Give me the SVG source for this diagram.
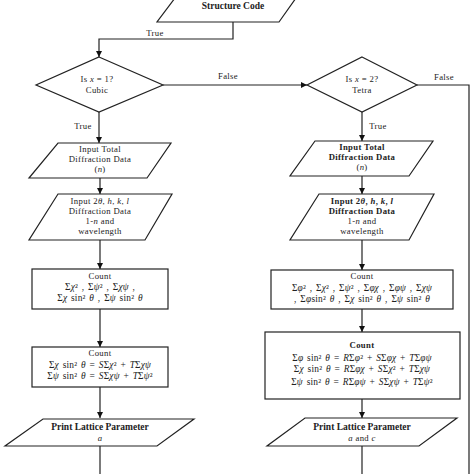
<svg xmlns="http://www.w3.org/2000/svg" width="474" height="474" viewBox="0 0 474 474">
<defs>
<marker id="arr" viewBox="0 0 8 8" refX="8" refY="4" markerWidth="6" markerHeight="6" markerUnits="userSpaceOnUse" orient="auto">
<path d="M0,0 L8,4 L0,8 z" fill="#111"/>
</marker>
<style>
.s{fill:#fff;stroke:#222;stroke-width:1.2}
.c{fill:none;stroke:#222;stroke-width:1.2}
text{font-family:"Liberation Serif","Times New Roman",serif;font-size:8.7px;letter-spacing:0.35px;fill:#222;text-anchor:middle}
.b{font-weight:bold}
.t{font-size:9.5px;letter-spacing:0}
.m{font-size:9.4px;letter-spacing:0.2px;word-spacing:1.2px}
.i{font-style:italic}
</style>
</defs>
<rect width="474" height="474" fill="#fff"/>
<g id="connectors">
<polyline class="c" points="233,22 233,39 99,39 99,57" marker-end="url(#arr)"/>
<line class="c" x1="163" y1="85" x2="307" y2="85" marker-end="url(#arr)"/>
<polyline class="c" points="417,85 469,85 469,474"/>
<line class="c" x1="99" y1="112" x2="99" y2="143" marker-end="url(#arr)"/>
<line class="c" x1="100" y1="178" x2="100" y2="194" marker-end="url(#arr)"/>
<line class="c" x1="100" y1="240" x2="100" y2="269" marker-end="url(#arr)"/>
<line class="c" x1="100" y1="309" x2="100" y2="347" marker-end="url(#arr)"/>
<line class="c" x1="100" y1="387" x2="100" y2="418" marker-end="url(#arr)"/>
<line class="c" x1="100" y1="446" x2="100" y2="474"/>
<line class="c" x1="362" y1="112" x2="362" y2="141" marker-end="url(#arr)"/>
<line class="c" x1="362" y1="176" x2="362" y2="194" marker-end="url(#arr)"/>
<line class="c" x1="362" y1="240" x2="362" y2="270" marker-end="url(#arr)"/>
<line class="c" x1="362" y1="309" x2="362" y2="332" marker-end="url(#arr)"/>
<line class="c" x1="362" y1="399" x2="362" y2="418" marker-end="url(#arr)"/>
<line class="c" x1="362" y1="446" x2="362" y2="474"/>
<text x="155" y="36">True</text>
<text x="228" y="79">False</text>
<text x="444" y="80">False</text>
<text x="83" y="129">True</text>
<text x="378" y="129">True</text>
</g>
<g id="structure-code">
<polygon class="s" points="175,-2 296,-2 279,22 157,22"/>
<text class="b t" x="233" y="9">Structure Code</text>
</g>
<g id="is-cubic">
<polygon class="s" points="99,57 163,85 99,112 36,85"/>
<text x="97" y="82">Is <tspan class="i">x</tspan> = 1?</text>
<text x="97" y="93">Cubic</text>
</g>
<g id="is-tetra">
<polygon class="s" points="362,57 417,85 362,112 307,85"/>
<text x="362" y="82">Is <tspan class="i">x</tspan> = 2?</text>
<text x="362" y="93">Tetra</text>
</g>
<g id="input-total-left">
<polygon class="s" points="58,143 171,143 147,178 29,178"/>
<text x="100" y="152">Input Total</text>
<text x="100" y="162">Diffraction Data</text>
<text x="100" y="172">(<tspan class="i">n</tspan>)</text>
</g>
<g id="input-data-left">
<polygon class="s" points="58,194 172,194 145,240 29,240"/>
<text x="100" y="204">Input 2<tspan class="i">θ</tspan>, <tspan class="i">h</tspan>, <tspan class="i">k</tspan>, <tspan class="i">l</tspan></text>
<text x="100" y="214">Diffraction Data</text>
<text x="100" y="224">1-<tspan class="i">n</tspan> and</text>
<text x="100" y="234">wavelength</text>
</g>
<g id="count1-left">
<rect class="s" x="32" y="269" width="136" height="40"/>
<text x="100" y="279">Count</text>
<text class="m" x="100" y="290">Σ<tspan class="i">χ</tspan>² , Σ<tspan class="i">ψ</tspan>² , Σ<tspan class="i">χψ</tspan> ,</text>
<text class="m" x="100" y="301">Σ<tspan class="i">χ</tspan> sin² <tspan class="i">θ</tspan> , Σ<tspan class="i">ψ</tspan> sin² <tspan class="i">θ</tspan></text>
</g>
<g id="count2-left">
<rect class="s" x="32" y="347" width="136" height="40"/>
<text x="100" y="356">Count</text>
<text class="m" x="100" y="368">Σ<tspan class="i">χ</tspan> sin² <tspan class="i">θ</tspan> = <tspan class="i">S</tspan>Σ<tspan class="i">χ</tspan>² + <tspan class="i">T</tspan>Σ<tspan class="i">χψ</tspan></text>
<text class="m" x="100" y="379">Σ<tspan class="i">ψ</tspan> sin² <tspan class="i">θ</tspan> = <tspan class="i">S</tspan>Σ<tspan class="i">χψ</tspan> + <tspan class="i">T</tspan>Σ<tspan class="i">ψ</tspan>²</text>
</g>
<g id="print-left">
<polygon class="s" points="43,419 194,419 157,446 5,446"/>
<text class="b t" x="100" y="430">Print Lattice Parameter</text>
<text x="100" y="441"><tspan class="i">a</tspan></text>
</g>
<g id="input-total-right">
<polygon class="s" points="315,141 433,141 409,176 290,176"/>
<text class="b" x="362" y="150">Input Total</text>
<text class="b" x="362" y="160">Diffraction Data</text>
<text x="362" y="170">(<tspan class="i">n</tspan>)</text>
</g>
<g id="input-data-right">
<polygon class="s" points="319,194 434,194 409,240 290,240"/>
<text class="b" x="362" y="204">Input 2<tspan class="i">θ</tspan>, <tspan class="i">h</tspan>, <tspan class="i">k</tspan>, <tspan class="i">l</tspan></text>
<text class="b" x="362" y="214">Diffraction Data</text>
<text x="362" y="224">1-<tspan class="i">n</tspan> and</text>
<text x="362" y="234">wavelength</text>
</g>
<g id="count1-right">
<rect class="s" x="271" y="270" width="182" height="39"/>
<text x="362" y="279">Count</text>
<text class="m" x="362" y="291">Σ<tspan class="i">φ</tspan>² , Σ<tspan class="i">χ</tspan>² , Σ<tspan class="i">ψ</tspan>² , Σ<tspan class="i">φχ</tspan> , Σ<tspan class="i">φψ</tspan> , Σ<tspan class="i">χψ</tspan></text>
<text class="m" x="362" y="302">, Σ<tspan class="i">φ</tspan>sin² <tspan class="i">θ</tspan> , Σ<tspan class="i">χ</tspan> sin² <tspan class="i">θ</tspan> , Σ<tspan class="i">ψ</tspan> sin² <tspan class="i">θ</tspan></text>
</g>
<g id="count2-right">
<rect class="s" x="265" y="332" width="195" height="67"/>
<text class="b" x="362" y="348">Count</text>
<text class="m" x="362" y="361">Σ<tspan class="i">φ</tspan> sin² <tspan class="i">θ</tspan> = <tspan class="i">R</tspan>Σ<tspan class="i">φ</tspan>² + <tspan class="i">S</tspan>Σ<tspan class="i">φχ</tspan> + <tspan class="i">T</tspan>Σ<tspan class="i">φψ</tspan></text>
<text class="m" x="362" y="372">Σ<tspan class="i">χ</tspan> sin² <tspan class="i">θ</tspan> = <tspan class="i">R</tspan>Σ<tspan class="i">φχ</tspan> + <tspan class="i">S</tspan>Σ<tspan class="i">χ</tspan>² + <tspan class="i">T</tspan>Σ<tspan class="i">χψ</tspan></text>
<text class="m" x="362" y="385">Σ<tspan class="i">ψ</tspan> sin² <tspan class="i">θ</tspan> = <tspan class="i">R</tspan>Σ<tspan class="i">φψ</tspan> + <tspan class="i">S</tspan>Σ<tspan class="i">χψ</tspan> + <tspan class="i">T</tspan>Σ<tspan class="i">ψ</tspan>²</text>
</g>
<g id="print-right">
<polygon class="s" points="305,418 457,418 419,446 267,446"/>
<text class="b t" x="362" y="430">Print Lattice Parameter</text>
<text x="362" y="441"><tspan class="i">a</tspan> and <tspan class="i">c</tspan></text>
</g>
</svg>
